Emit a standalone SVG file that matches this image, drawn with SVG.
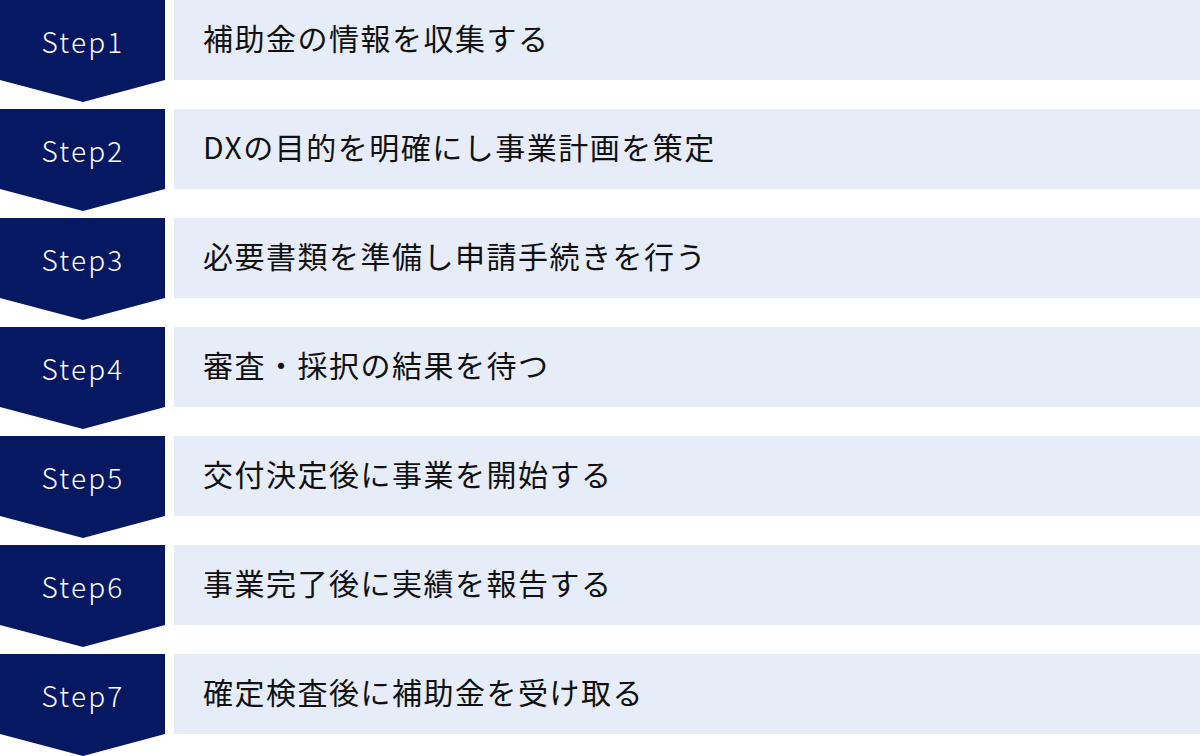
<svg xmlns="http://www.w3.org/2000/svg" width="1200" height="756" viewBox="0 0 1200 756">
<defs>
<style>
.badge{fill:#061862}
.box{fill:#e6ecf8}
.step{font-family:"Noto Sans CJK JP","Noto Sans",sans-serif;font-size:28px;font-weight:300;fill:#ffffff;text-anchor:middle;letter-spacing:2.2px}
.label{font-family:"Noto Sans CJK JP","Noto Sans",sans-serif;font-size:30px;font-weight:400;fill:#111111;letter-spacing:1.5px}
</style>
<polygon id="chev" class="badge" points="0,0 165,0 165,80 83,102 0,80"/>
</defs>
<rect width="1200" height="756" fill="#ffffff"/>
<g id="connectors"></g>
<g id="step1" transform="translate(0,0)">
<use href="#chev"/>
<rect class="box" x="174" y="0" width="1026" height="80"/>
<text class="step" x="83" y="53">Step1</text>
<text class="label" x="203" y="50">補助金の情報を収集する</text>
</g>
<g id="step2" transform="translate(0,109)">
<use href="#chev"/>
<rect class="box" x="174" y="0" width="1026" height="80"/>
<text class="step" x="83" y="53">Step2</text>
<text class="label" x="203" y="50">DXの目的を明確にし事業計画を策定</text>
</g>
<g id="step3" transform="translate(0,218)">
<use href="#chev"/>
<rect class="box" x="174" y="0" width="1026" height="80"/>
<text class="step" x="83" y="53">Step3</text>
<text class="label" x="203" y="50">必要書類を準備し申請手続きを行う</text>
</g>
<g id="step4" transform="translate(0,327)">
<use href="#chev"/>
<rect class="box" x="174" y="0" width="1026" height="80"/>
<text class="step" x="83" y="53">Step4</text>
<text class="label" x="203" y="50">審査・採択の結果を待つ</text>
</g>
<g id="step5" transform="translate(0,436)">
<use href="#chev"/>
<rect class="box" x="174" y="0" width="1026" height="80"/>
<text class="step" x="83" y="53">Step5</text>
<text class="label" x="203" y="50">交付決定後に事業を開始する</text>
</g>
<g id="step6" transform="translate(0,545)">
<use href="#chev"/>
<rect class="box" x="174" y="0" width="1026" height="80"/>
<text class="step" x="83" y="53">Step6</text>
<text class="label" x="203" y="50">事業完了後に実績を報告する</text>
</g>
<g id="step7" transform="translate(0,654)">
<use href="#chev"/>
<rect class="box" x="174" y="0" width="1026" height="80"/>
<text class="step" x="83" y="53">Step7</text>
<text class="label" x="203" y="50">確定検査後に補助金を受け取る</text>
</g>
</svg>
